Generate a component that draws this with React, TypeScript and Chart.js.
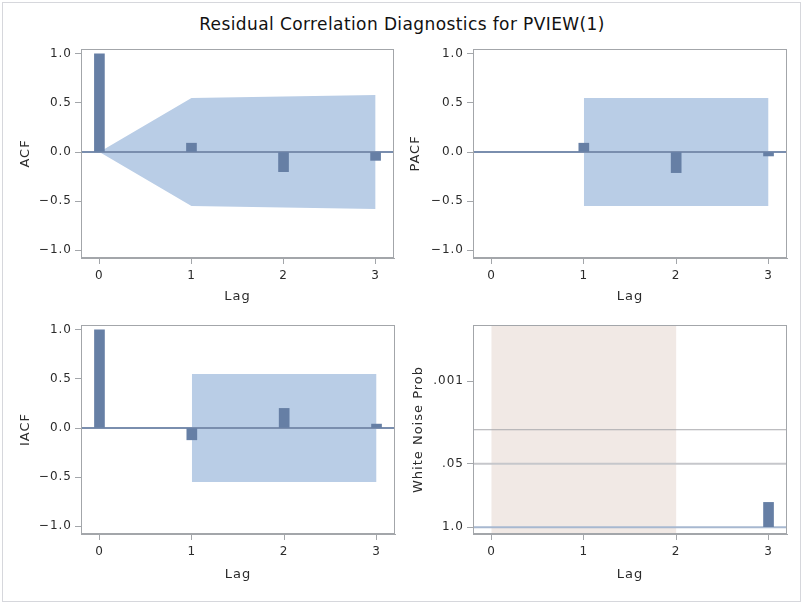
import React, { useEffect, useRef } from "react";
import { Chart, registerables } from "chart.js";
Chart.register(...registerables);

// ---------- data ----------
const lags = [0, 1, 2, 3];
const lagTicks = [0, 1, 2, 3];
const acfValues = [1.0, 0.09, -0.2, -0.085];
const acfBand = [0, 0.55, 0.565, 0.58];
const pacfValues = [null, 0.09, -0.21, -0.04];
const pacfBand = [null, 0.55, 0.55, 0.55];
const iacfValues = [1.0, -0.12, 0.2, 0.04];
const iacfBand = [null, 0.55, 0.55, 0.55];
const corrTicks = [-1, -0.5, 0, 0.5, 1];
const whiteNoiseProb = [null, null, null, 0.31];
const whiteNoiseShade = [0, 2];
const probTicks = [1.0, 0.05, 0.001];
const probTickLabels = ["1.0", ".05", ".001"];
const probRefLines = [0.01, 0.05];
const titleText = "Residual Correlation Diagnostics for PVIEW(1)";

// ---------- style ----------
const FONT_FAMILY = "'DejaVu Sans', sans-serif";
const TEXT = "#2b2b2b";
const AXIS = "#a3a6aa";
const BAR = "#667fa5";
const BAND = "#b9cde6";
const ZERO = "#7a8eae";
const SHADE = "#f1e9e5";

const nlog = (p: number) => -Math.log10(p);

const spacingPlugin = {
  id: "spacing",
  beforeDraw(chart: any) {
    (chart.ctx as any).letterSpacing = "1px";
  },
  beforeLayout(chart: any) {
    (chart.ctx as any).letterSpacing = "1px";
  },
};

const framePlugin = {
  id: "frame",
  afterDraw(chart: any) {
    const { ctx, chartArea: a } = chart;
    ctx.save();
    ctx.strokeStyle = AXIS;
    ctx.lineWidth = 1;
    ctx.strokeRect(Math.round(a.left) + 0.5, Math.round(a.top) + 0.5, Math.round(a.right - a.left) - 1, Math.round(a.bottom - a.top) - 1);
    ctx.restore();
  },
};

function refPlugin(lines: { value: number; color: string; width: number }[], shade?: number[]) {
  return {
    id: "refs",
    beforeDatasetsDraw(chart: any) {
      const { ctx, chartArea: a, scales } = chart;
      ctx.save();
      if (shade) {
        const x0 = scales.x.getPixelForValue(shade[0]);
        const x1 = scales.x.getPixelForValue(shade[1]);
        ctx.fillStyle = SHADE;
        ctx.fillRect(x0, a.top, x1 - x0, a.bottom - a.top);
      }
      for (const l of lines) {
        const y = scales.y.getPixelForValue(l.value);
        ctx.strokeStyle = l.color;
        ctx.lineWidth = l.width;
        ctx.beginPath();
        ctx.moveTo(a.left, y);
        ctx.lineTo(a.right, y);
        ctx.stroke();
      }
      ctx.restore();
    },
  };
}

function baseOptions(opts: {
  yMin: number;
  yMax: number;
  yTicks: number[];
  yLabel: (v: number, i: number) => string;
  yTitle: string;
  yWidth: number;
  yTitlePad: number;
  padRight: number;
  padTop: number;
  xTitlePad: number;
}) {
  const font = { family: FONT_FAMILY, size: 12 };
  return {
    animation: false,
    responsive: false,
    layout: { padding: { left: 0, right: opts.padRight, top: opts.padTop, bottom: 0 } },
    plugins: {
      legend: { display: false },
      tooltip: { enabled: false },
      filler: { drawTime: "beforeDatasetsDraw" },
    },
    scales: {
      x: {
        type: "linear",
        min: -0.2,
        max: 3.2,
        offset: false,
        afterBuildTicks: (s: any) => {
          s.ticks = lagTicks.map((v) => ({ value: v }));
        },
        afterFit: (s: any) => {
          s.height = 52;
        },
        ticks: { font, color: TEXT, padding: 5, callback: (v: any) => String(v), maxRotation: 0 },
        grid: { display: true, offset: false, drawOnChartArea: false, drawTicks: true, tickLength: 6, color: AXIS },
        border: { display: true, color: AXIS },
        title: { display: true, text: "Lag", font: { family: FONT_FAMILY, size: 13 }, color: TEXT, padding: { top: 0, bottom: opts.xTitlePad } },
      },
      y: {
        type: "linear",
        min: opts.yMin,
        max: opts.yMax,
        afterBuildTicks: (s: any) => {
          s.ticks = opts.yTicks.map((v) => ({ value: v }));
        },
        afterFit: (s: any) => {
          s.width = opts.yWidth;
        },
        ticks: {
          font,
          color: TEXT,
          padding: 3,
          callback: (v: any, i: number) => opts.yLabel(v, i),
        },
        grid: { display: true, offset: false, drawOnChartArea: false, drawTicks: true, tickLength: 6, color: AXIS },
        border: { display: true, color: AXIS },
        title: { display: true, text: opts.yTitle, font: { family: FONT_FAMILY, size: 13 }, color: TEXT, padding: { top: opts.yTitlePad, bottom: 0 } },
      },
    },
  };
}

const corrLabel = (v: number) => v.toFixed(1).replace("-", "\u2212");

function corrConfig(values: (number | null)[], band: (number | null)[], yTitle: string, yWidth: number, yTitlePad: number, padRight: number, xTitlePad: number) {
  const upper = lags.map((x, i) => (band[i] == null ? null : { x, y: band[i] as number })).filter(Boolean);
  const lower = lags.map((x, i) => (band[i] == null ? null : { x, y: -(band[i] as number) })).filter(Boolean);
  const bars = lags.map((x, i) => (values[i] == null ? null : { x, y: values[i] as number })).filter(Boolean);
  return {
    type: "bar",
    data: {
      datasets: [
        { type: "line", data: upper, fill: "+1", backgroundColor: BAND, borderWidth: 0, pointRadius: 0, tension: 0, order: 3 },
        { type: "line", data: lower, fill: false, backgroundColor: BAND, borderWidth: 0, pointRadius: 0, tension: 0, order: 2 },
        { type: "bar", data: bars, backgroundColor: BAR, borderWidth: 0, barThickness: 10, order: 1 },
      ],
    },
    options: baseOptions({
      yMin: -1.08,
      yMax: 1.05,
      yTicks: corrTicks,
      yLabel: corrLabel,
      yTitle,
      yWidth,
      yTitlePad,
      padRight,
      padTop: 15,
      xTitlePad,
    }),
    plugins: [spacingPlugin, refPlugin([{ value: 0, color: ZERO, width: 2 }]), framePlugin],
  };
}

function whiteNoiseConfig() {
  const bars = lags.map((x, i) => (whiteNoiseProb[i] == null ? null : { x, y: nlog(whiteNoiseProb[i] as number) })).filter(Boolean);
  const tickVals = probTicks.map(nlog);
  return {
    type: "bar",
    data: {
      datasets: [{ type: "bar", data: bars, backgroundColor: BAR, borderWidth: 0, barThickness: 10, order: 1 }],
    },
    options: baseOptions({
      yMin: -0.14,
      yMax: 4.15,
      yTicks: tickVals,
      yLabel: (_v: number, i: number) => probTickLabels[i],
      yTitle: "White Noise Prob",
      yWidth: 73,
      yTitlePad: 11,
      padRight: 17,
      padTop: 15,
      xTitlePad: 4,
    }),
    plugins: [
      spacingPlugin,
      refPlugin(
        [
          { value: nlog(probRefLines[0]), color: "#a9a9ad", width: 1 },
          { value: nlog(probRefLines[1]), color: "#c6c7cb", width: 2 },
          { value: nlog(probTicks[0]), color: "#a7b8d0", width: 2 },
        ],
        whiteNoiseShade
      ),
      framePlugin,
    ],
  };
}

function Panel({ left, top, width, height, make }: { left: number; top: number; width: number; height: number; make: () => any }) {
  const ref = useRef<HTMLCanvasElement | null>(null);
  useEffect(() => {
    if (!ref.current) return;
    const chart = new Chart(ref.current, make());
    return () => chart.destroy();
  }, []);
  return (
    <canvas
      ref={ref}
      width={width}
      height={height}
      style={{ position: "absolute", left, top, width, height }}
    />
  );
}

export default function App() {
  useEffect(() => {
    document.body.style.margin = "0";
  }, []);
  return (
    <div style={{ position: "relative", width: 804, height: 605, background: "#fff", overflow: "hidden" }}>
      <div
        style={{
          position: "absolute",
          left: 2,
          top: 2,
          width: 799,
          height: 600,
          boxSizing: "border-box",
          border: "1px solid #d6d7dc",
        }}
      />
      <div
        style={{
          position: "absolute",
          left: 0,
          top: 13,
          width: 804,
          textAlign: "center",
          fontFamily: FONT_FAMILY,
          fontSize: 17,
          letterSpacing: "0.4px",
          lineHeight: "22px",
          color: "#111",
        }}
      >
        {titleText}
      </div>
      <Panel left={0} top={34} width={400} height={276} make={() => corrConfig(acfValues, acfBand, "ACF", 81, 18, 6, 6)} />
      <Panel left={400} top={34} width={404} height={276} make={() => corrConfig(pacfValues, pacfBand, "PACF", 73, 8, 17, 6)} />
      <Panel left={0} top={310} width={400} height={276} make={() => corrConfig(iacfValues, iacfBand, "IACF", 81, 18, 5, 4)} />
      <Panel left={400} top={310} width={404} height={276} make={whiteNoiseConfig} />
    </div>
  );
}
